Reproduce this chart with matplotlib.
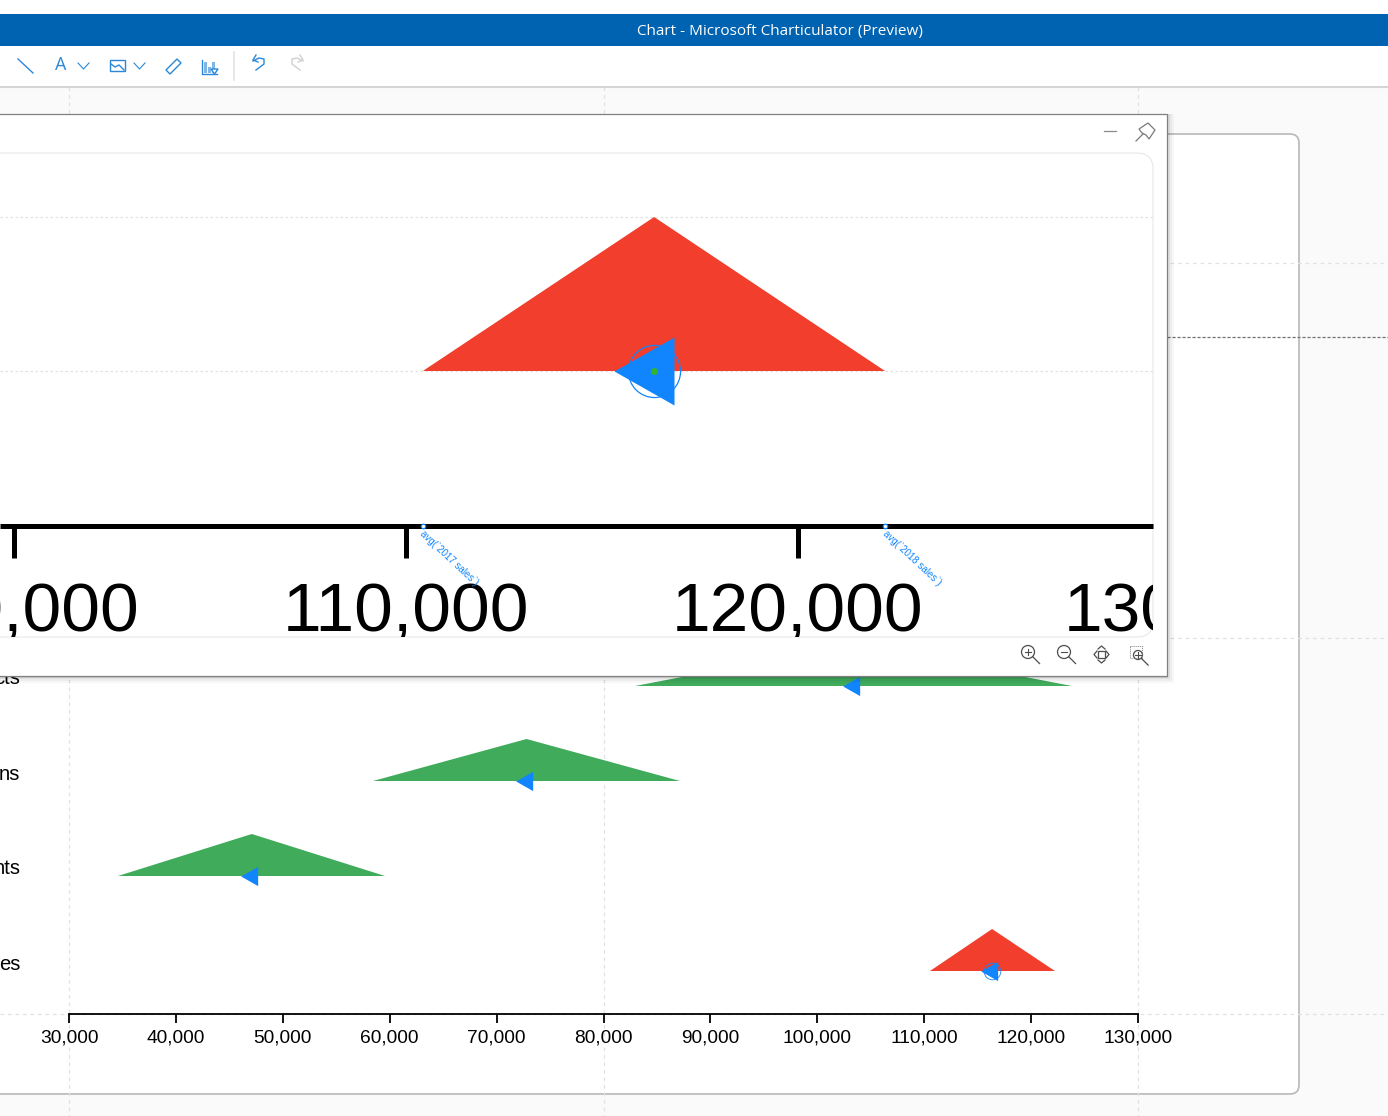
import matplotlib
matplotlib.use("Agg")
import matplotlib.pyplot as plt
from matplotlib.patches import FancyBboxPatch, Rectangle, Polygon, Circle

# rows from top to bottom in the main chart
row_labels = ["cts", "ns", "nts", "es"]
sales_low = [82950, 58440, 34580, 110540]
sales_high = [123830, 87150, 59560, 122230]
sales_avg = [103390, 72800, 47100, 116350]
x_ticks = [30000, 40000, 50000, 60000, 70000, 80000, 90000, 100000, 110000, 120000, 130000]

# the zoomed row in the floating preview
inset_low = 110430
inset_high = 122220
inset_avg = 116330
inset_ticks = [100000, 110000, 120000, 130000]
inset_names = ["avg(`2017 sales`)", "avg(`2018 sales`)"]

GREEN = "#3fab5b"
RED = "#f13e2d"
BLUE = "#1185fd"
ICON = "#2b88d8"
GRID = "#e2e2e2"
W, H = 1388, 1116
plt.rcParams['font.family'] = ['Liberation Sans', 'DejaVu Sans']

fig = plt.figure(figsize=(W / 100, H / 100), dpi=100, facecolor="white")


def px_axes(x0, y0, x1, y1, z):
    ax = fig.add_axes([x0 / W, 1 - y1 / H, (x1 - x0) / W, (y1 - y0) / H], zorder=z)
    ax.patch.set_alpha(0)
    return ax


# window chrome, pixel coordinates
bg = px_axes(0, 0, W, H, 0)
bg.set_xlim(0, W)
bg.set_ylim(H, 0)
bg.axis("off")
bg.add_patch(Rectangle((0, 87), W, H - 87, fc="#fafafa", ec="none"))
bg.add_patch(FancyBboxPatch((-40, 134), 1339, 960, boxstyle="round,pad=0,rounding_size=9",
                            fc="white", ec="#b8b8b8", lw=1.2))
for x in [69, 604, 1138]:
    bg.plot([x, x], [87, H], color=GRID, lw=0.9, ls=(0, (3, 3)))
for y in [263, 638, 1014]:
    bg.plot([0, W], [y, y], color=GRID, lw=0.9, ls=(0, (3, 3)))
bg.plot([1167, W], [337, 337], color="#707070", lw=0.9, ls=(0, (2.5, 1.5)))
bg.add_patch(Rectangle((0, 0), W, 14, fc="white", ec="none", zorder=3))
bg.add_patch(Rectangle((0, 14), W, 32, fc="#0063b1", ec="none", zorder=3))
bg.add_patch(Rectangle((0, 46), W, 41, fc="white", ec="none", zorder=3))
bg.plot([0, W], [87, 87], color="#d4d4d4", lw=1.5, zorder=3)
bg.text(780, 31.5, "Chart - Microsoft Charticulator (Preview)", color="white", fontsize=10.95,
        family="Open Sans", ha="center", va="center", zorder=4)

# toolbar icons
icon_kw = dict(color=ICON, lw=1.0, zorder=4)
bg.plot([18, 33], [59, 73], **icon_kw)
bg.text(61, 65.5, "A", color=ICON, fontsize=13, family="Open Sans", ha="center", va="center", zorder=4)
for x in [78, 134]:
    bg.plot([x, x + 5.5, x + 11], [63, 69, 63], color=ICON, lw=0.8, zorder=4)
bg.add_patch(Rectangle((110, 60), 15, 11, fc="white", ec=ICON, lw=1.0, zorder=4))
bg.plot([111, 115, 119, 124], [64, 67, 65, 70], **icon_kw)
bg.add_patch(Polygon([(166, 70), (177, 59), (181, 63), (170, 74)], closed=True, fc="white", ec=ICON, lw=1.0, zorder=4))
bg.plot([202, 202, 217], [60, 74, 74], **icon_kw)
for x, top in [(204, 62), (208, 67), (212, 62)]:
    bg.add_patch(Rectangle((x, top), 3, 73 - top, fc="#7fb6e6", ec="none", zorder=4))
bg.add_patch(Polygon([(211, 69), (218, 69), (214.5, 74)], closed=True, fc="white", ec=ICON, lw=1, zorder=4))
bg.plot([234, 234], [52, 80], color="#e3e3e3", lw=1.2, zorder=4)
bg.plot([253, 259, 264, 264, 256], [61, 58, 59, 64, 70], **icon_kw)
bg.plot([256, 253, 258], [55, 60, 62], **icon_kw)
gray_kw = dict(color="#d0d0d0", lw=1.0, zorder=4)
bg.plot([303, 297, 292, 292, 300], [61, 58, 59, 64, 70], **gray_kw)
bg.plot([300, 303, 298], [55, 60, 62], **gray_kw)

# main chart
ax = px_axes(69, 134, 1138, 1014, 1)
ax.set_xlim(30000, 130000)
ax.set_ylim(-43 / 95, 837 / 95)
for i, label in enumerate(row_labels):
    base = len(row_labels) - 1 - i
    color = RED if i == 3 else GREEN
    ax.add_patch(Polygon([(sales_low[i], base), (sales_avg[i], base + 42 / 95), (sales_high[i], base)],
                         closed=True, fc=color, ec="none"))
    ax.plot([sales_avg[i]], [base], marker=[(-40, 0), (20, 34), (20, -34)], ms=16.3, mfc=BLUE, mec="none", ls="none")
ax.plot([sales_avg[3]], [0], "o", ms=12, mfc="none", mec=BLUE, mew=0.6)
ax.set_xticks(x_ticks)
ax.set_xticklabels([f"{v:,}" for v in x_ticks])
ax.set_yticks([len(row_labels) - 1 - i + 9 / 95 for i in range(len(row_labels))])
ax.set_yticklabels(row_labels)
ax.tick_params(axis="x", length=6.5, width=1.3, labelsize=13.8, pad=4.8, color="black")
ax.tick_params(axis="y", length=0, labelsize=14.6, pad=35)
for s in ["top", "right", "left"]:
    ax.spines[s].set_visible(False)
ax.spines["bottom"].set_linewidth(1.3)

# floating preview panel
panel = px_axes(0, 0, W, H, 2)
panel.set_xlim(0, W)
panel.set_ylim(H, 0)
panel.axis("off")
for grow, alpha in [(7, 0.03), (5, 0.04), (3, 0.06), (1.5, 0.08)]:
    panel.add_patch(Rectangle((-20, 114), 1187 + grow, 562 + grow, fc="black", ec="none", alpha=alpha))
panel.add_patch(Rectangle((-20, 114), 1187, 562, fc="white", ec="#808080", lw=0.9))
panel.add_patch(FancyBboxPatch((-40, 153), 1193, 484, boxstyle="round,pad=0,rounding_size=16",
                               fc="white", ec="#e8e8e8", lw=0.8))
panel.plot([1104, 1116], [131, 131], color="#8a8a8a", lw=0.9)
# pin icon
panel.add_patch(Polygon([(1139, 129), (1148, 123), (1155, 130), (1149, 139), (1146, 135), (1142, 133)],
                        closed=True, fc="white", ec="#7a7a7a", lw=0.9))
panel.plot([1136, 1143], [141, 134], color="#7a7a7a", lw=0.9)
# zoom icons
for cx, sym in [(1028, "+"), (1064, "-"), (1138, "+")]:
    r = 4.5 if cx == 1138 else 6.5
    cy = 655 if cx == 1138 else 652
    panel.add_patch(Circle((cx, cy), r, fc="none", ec="#4d4d4d", lw=0.9))
    panel.plot([cx + r * 0.7, cx + r * 0.7 + 7], [cy + r * 0.7, cy + r * 0.7 + 7], color="#4d4d4d", lw=0.9)
    panel.plot([cx - 3, cx + 3], [cy, cy], color="#4d4d4d", lw=0.8)
    if sym == "+":
        panel.plot([cx, cx], [cy - 3, cy + 3], color="#4d4d4d", lw=0.8)
panel.add_patch(Rectangle((1130, 646), 12, 12, fc="none", ec="#808080", lw=0.7, ls=(0, (1, 1))))
panel.add_patch(Rectangle((1098, 651), 7, 7, fc="none", ec="#4d4d4d", lw=0.9))
panel.plot([1097, 1094, 1097], [651, 654.5, 658], color="#4d4d4d", lw=0.9)
panel.plot([1106, 1109, 1106], [651, 654.5, 658], color="#4d4d4d", lw=0.9)
panel.plot([1098, 1101.5, 1105], [649, 646, 649], color="#4d4d4d", lw=0.9)
panel.plot([1098, 1101.5, 1105], [660, 663, 660], color="#4d4d4d", lw=0.9)

# zoomed chart inside the panel
ins = px_axes(0, 153, 1153, 637, 3)
ins.set_xlim(110000 - 406 * 10000 / 392, 110000 + 747 * 10000 / 392)
ins.set_ylim(-266 / 154, 218 / 154)
ins.axhline(0, color=GRID, lw=0.9, ls=(0, (2, 2)), zorder=1)
ins.axhline(1, color=GRID, lw=0.9, ls=(0, (2, 2)), zorder=1)
ins.add_patch(Polygon([(inset_low, 0), (inset_avg, 1), (inset_high, 0)], closed=True, fc=RED, ec="none", zorder=2))
ins.plot([inset_avg], [0], "o", ms=37.5, mfc="none", mec=BLUE, mew=0.9, zorder=3)
ins.plot([inset_avg], [0], marker=[(-40, 0), (20, 34), (20, -34)], ms=57.6, mfc=BLUE, mec="none", ls="none", zorder=4)
ins.plot([inset_avg], [0], "o", ms=5, mfc="#33b52b", mec="none", zorder=5)
axis_y = -155 / 154
for s in ["top", "right", "left"]:
    ins.spines[s].set_visible(False)
ins.spines["bottom"].set_position(("data", axis_y))
ins.spines["bottom"].set_linewidth(3.6)
ins.spines["bottom"].set_capstyle("butt")
ins.set_yticks([])
ins.set_xticks(inset_ticks[:3])
ins.set_xticklabels([])
ins.tick_params(axis="x", length=23, width=3.6, color="black")
for v in inset_ticks:
    ins.text(v, -242 / 154, f"{v:,}", fontsize=50, ha="center", va="center", clip_on=True, zorder=5)
for v, name in zip([inset_low, inset_high], inset_names):
    ins.plot([v], [axis_y], "o", ms=3.2, mfc="white", mec=BLUE, mew=0.9, zorder=6)
    ins.annotate(name, (v, axis_y), xytext=(2, -2), textcoords="offset points", fontsize=7, color=BLUE,
                 rotation=-43, rotation_mode="anchor", ha="left", va="top", zorder=6)

fig.savefig("out.png", dpi=100)
